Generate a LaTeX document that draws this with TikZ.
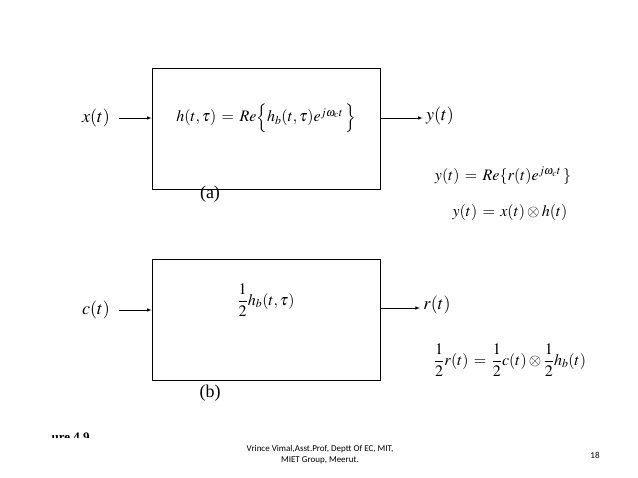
\documentclass[tikz,border=0pt]{standalone}
\usepackage{amsmath,amssymb}
\usepackage{mathptmx}
\usepackage{fontspec}
\setmainfont{Liberation Serif}
\newfontfamily\foot{Carlito}
\begin{document}
\begin{tikzpicture}[x=1pt,y=-1pt,
  blk/.style={draw,line width=0.8pt,minimum width=228pt,minimum height=121pt,inner sep=0pt},
  arr/.style={->,>=latex,line width=0.6pt},
  lab/.style={font=\fontsize{18}{20}\selectfont},
  eq/.style={font=\fontsize{16}{18}\selectfont}]
\useasboundingbox (0,0) rectangle (638,478);
\node[blk] (A) at (266,129) {};
\node[blk] (B) at (266,320) {};
\node[lab] (x) at (96,118) {$x(t)$};
\draw[arr] (x.east)++(6,0) -- (A.west|-x);
\node[eq] (h) at (266,118) {$h(t,\tau)\,=\,Re\Bigl\{h_b(t,\tau)e^{j\omega_c t}\,\Bigr\}$};
\node[lab] (y) at (440,116) {$y(t)$};
\draw[arr] (A.east|-h) -- (y.west|-h);
\node[eq] (e1) at (503,176) {$y(t)\,=\,Re\{r(t)e^{j\omega_c t}\,\}$};
\node[eq] (e2) at (510,213) {$y(t)\,=\,x(t)\otimes h(t)$};
\node[lab] (la) at (210,194) {(a)};
\node[lab] (c) at (96,310) {$c(t)$};
\draw[arr] (c.east)++(6,0) -- (B.west|-c);
\node[eq] (hb) at (266,300) {$\dfrac{1}{2}h_b(t,\tau)$};
\coordinate (bo) at (380,308);
\node[lab] (r) at (437,305) {$r(t)$};
\draw[arr] (B.east|-bo) -- (r.west|-bo);
\node[eq] (e3) at (510,360) {$\dfrac{1}{2}r(t)\,=\,\dfrac{1}{2}c(t)\otimes\dfrac{1}{2}h_b(t)$};
\node[lab] (lb) at (210,393) {(b)};
\begin{scope}
\clip (40,428) rectangle (120,438);
\node[font=\fontsize{13}{15}\selectfont\bfseries,anchor=west] (f) at (48,437) {ure 4.9};
\end{scope}
\node[font=\foot\fontsize{9}{11}\selectfont,align=center] (ft) at (320,455) {Vrince Vimal,Asst.Prof, Deptt Of EC, MIT,\\MIET Group, Meerut.};
\node[font=\foot\fontsize{9}{11}\selectfont] (pg) at (595,455) {18};
\end{tikzpicture}
\end{document}
